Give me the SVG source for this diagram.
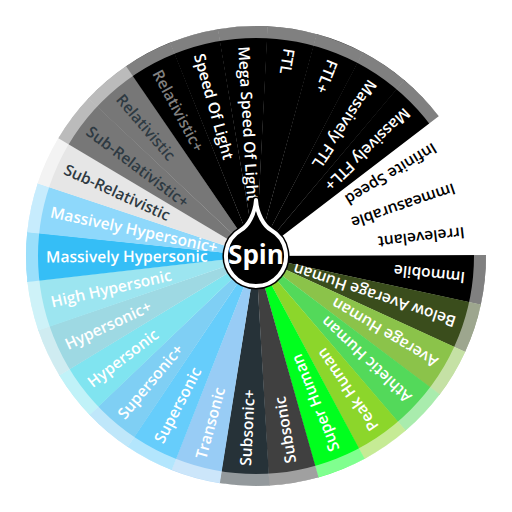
<svg xmlns="http://www.w3.org/2000/svg" width="512" height="512" viewBox="0 0 512 512">
<style>
.w{fill:none;stroke-width:230;stroke-dasharray:25.1 800}
.t{font-family:"Open Sans","Liberation Sans",Arial,sans-serif;font-weight:600;font-size:15.6px}
.lw{fill:#fff}.lk{fill:#000}.ld{fill:#2e3a42}.lg{fill:#808080}
</style>
<rect width="512" height="512" fill="#fff"/>
<g id="wheel" transform="translate(256 256)">
<g id="seg-infinite-speed"><circle class="w" r="115" stroke="#fff" transform="rotate(-37.5)"/><text class="t lk" transform="rotate(148.707)" x="-210" dy="0.35em">Infinite Speed</text></g>
<g id="seg-immeasurable"><circle class="w" r="115" stroke="#fff" transform="rotate(-25.086)"/><text class="t lk" transform="rotate(161.121)" x="-210" dy="0.35em">Immeasurable</text></g>
<g id="seg-irrelevelant"><circle class="w" r="115" stroke="#fff" transform="rotate(-12.672)"/><text class="t lk" transform="rotate(173.534)" x="-210" dy="0.35em">Irrelevelant</text></g>
<g id="seg-immobile"><circle class="w" r="115" stroke="#000" transform="rotate(-0.259)"/><text class="t lw" transform="rotate(185.948)" x="-210" dy="0.35em">Immobile</text></g>
<g id="seg-below-average-human"><circle class="w" r="115" stroke="#3a4d1c" transform="rotate(12.155)"/><text class="t lw" transform="rotate(198.362)" x="-210" dy="0.35em">Below Average Human</text></g>
<g id="seg-average-human"><circle class="w" r="115" stroke="#8bc34a" transform="rotate(24.569)"/><text class="t lw" transform="rotate(210.776)" x="-210" dy="0.35em">Average Human</text></g>
<g id="seg-athletic-human"><circle class="w" r="115" stroke="#53d95a" transform="rotate(36.983)"/><text class="t lw" transform="rotate(223.190)" x="-210" dy="0.35em">Athletic Human</text></g>
<g id="seg-peak-human"><circle class="w" r="115" stroke="#8cd62b" transform="rotate(49.397)"/><text class="t lw" transform="rotate(235.603)" x="-210" dy="0.35em">Peak Human</text></g>
<g id="seg-super-human"><circle class="w" r="115" stroke="#00ff1e" transform="rotate(61.810)"/><text class="t lw" transform="rotate(248.017)" x="-210" dy="0.35em">Super Human</text></g>
<g id="seg-subsonic"><circle class="w" r="115" stroke="#404040" transform="rotate(74.224)"/><text class="t lw" transform="rotate(260.431)" x="-210" dy="0.35em">Subsonic</text></g>
<g id="seg-subsonic-plus"><circle class="w" r="115" stroke="#263238" transform="rotate(86.638)"/><text class="t lw" transform="rotate(272.845)" x="-210" dy="0.35em">Subsonic+</text></g>
<g id="seg-transonic"><circle class="w" r="115" stroke="#98ccf5" transform="rotate(99.052)"/><text class="t lw" transform="rotate(285.259)" x="-210" dy="0.35em">Transonic</text></g>
<g id="seg-supersonic"><circle class="w" r="115" stroke="#66cdfb" transform="rotate(111.466)"/><text class="t lw" transform="rotate(297.672)" x="-210" dy="0.35em">Supersonic</text></g>
<g id="seg-supersonic-plus"><circle class="w" r="115" stroke="#7fcff4" transform="rotate(123.879)"/><text class="t lw" transform="rotate(310.086)" x="-210" dy="0.35em">Supersonic+</text></g>
<g id="seg-hypersonic"><circle class="w" r="115" stroke="#80e4f0" transform="rotate(136.293)"/><text class="t lw" transform="rotate(322.5)" x="-210" dy="0.35em">Hypersonic</text></g>
<g id="seg-hypersonic-plus"><circle class="w" r="115" stroke="#9ed9e3" transform="rotate(148.707)"/><text class="t lw" transform="rotate(334.914)" x="-210" dy="0.35em">Hypersonic+</text></g>
<g id="seg-high-hypersonic"><circle class="w" r="115" stroke="#9ce5f0" transform="rotate(161.121)"/><text class="t lw" transform="rotate(347.328)" x="-210" dy="0.35em">High Hypersonic</text></g>
<g id="seg-massively-hypersonic"><circle class="w" r="115" stroke="#35bef6" transform="rotate(173.534)"/><text class="t lw" transform="rotate(359.741)" x="-210" dy="0.35em">Massively Hypersonic</text></g>
<g id="seg-massively-hypersonic-plus"><circle class="w" r="115" stroke="#8ed8fb" transform="rotate(185.948)"/><text class="t lw" transform="rotate(12.155)" x="-210" dy="0.35em">Massively Hypersonic+</text></g>
<g id="seg-sub-relativistic"><circle class="w" r="115" stroke="#e6e6e6" transform="rotate(198.362)"/><text class="t ld" transform="rotate(24.569)" x="-210" dy="0.35em">Sub-Relativistic</text></g>
<g id="seg-sub-relativistic-plus"><circle class="w" r="115" stroke="#777" transform="rotate(210.776)"/><text class="t ld" transform="rotate(36.983)" x="-210" dy="0.35em">Sub-Relativistic+</text></g>
<g id="seg-relativistic"><circle class="w" r="115" stroke="#777" transform="rotate(223.190)"/><text class="t ld" transform="rotate(49.397)" x="-210" dy="0.35em">Relativistic</text></g>
<g id="seg-relativistic-plus"><circle class="w" r="115" stroke="#000" transform="rotate(235.603)"/><text class="t lg" transform="rotate(61.810)" x="-210" dy="0.35em">Relativistic+</text></g>
<g id="seg-speed-of-light"><circle class="w" r="115" stroke="#000" transform="rotate(248.017)"/><text class="t lw" transform="rotate(74.224)" x="-210" dy="0.35em">Speed Of Light</text></g>
<g id="seg-mega-speed-of-light"><circle class="w" r="115" stroke="#000" transform="rotate(260.431)"/><text class="t lw" transform="rotate(86.638)" x="-210" dy="0.35em">Mega Speed Of Light</text></g>
<g id="seg-ftl"><circle class="w" r="115" stroke="#000" transform="rotate(272.845)"/><text class="t lw" transform="rotate(99.052)" x="-210" dy="0.35em">FTL</text></g>
<g id="seg-ftl-plus"><circle class="w" r="115" stroke="#000" transform="rotate(285.259)"/><text class="t lw" transform="rotate(111.466)" x="-210" dy="0.35em">FTL+</text></g>
<g id="seg-massively-ftl"><circle class="w" r="115" stroke="#000" transform="rotate(297.672)"/><text class="t lw" transform="rotate(123.879)" x="-210" dy="0.35em">Massively FTL</text></g>
<g id="seg-massively-ftl-plus"><circle class="w" r="115" stroke="#000" transform="rotate(310.086)"/><text class="t lw" transform="rotate(136.293)" x="-210" dy="0.35em">Massively FTL+</text></g>
<circle id="rim" r="224" fill="none" stroke="#fff" stroke-opacity="0.5" stroke-width="12"/>
</g>
<g id="spin-button">
<path d="M256 200 C257 214 264 226 271 230 A30 30 0 1 1 241 230 C248 226 255 214 256 200 Z" fill="none" stroke="#000" stroke-width="7" stroke-linejoin="round"/>
<path d="M256 200 C257 214 264 226 271 230 A30 30 0 1 1 241 230 C248 226 255 214 256 200 Z" fill="#000" stroke="#fff" stroke-width="4" stroke-linejoin="round"/>
<text x="256" y="264" text-anchor="middle" font-family="Open Sans, Liberation Sans, Arial, sans-serif" font-weight="bold" font-size="26" fill="#fff">Spin</text>
</g>
</svg>
